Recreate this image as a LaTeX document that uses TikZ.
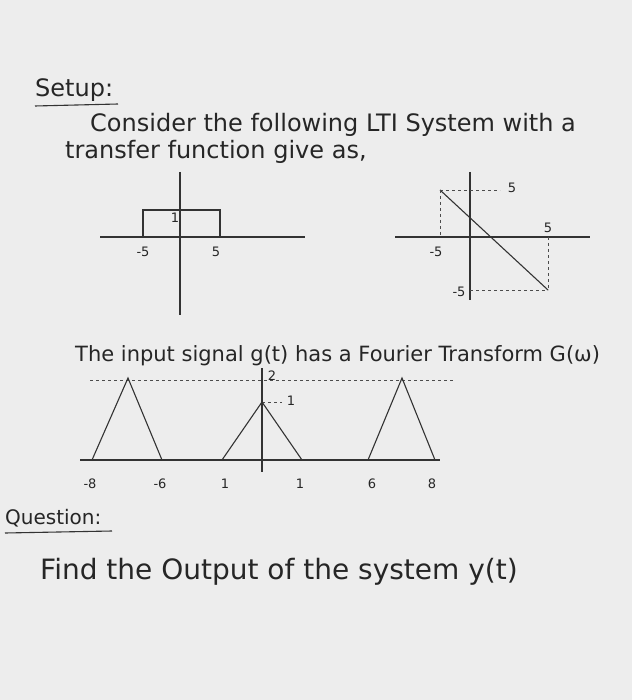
\documentclass[tikz,border=0pt]{standalone}
\usepackage{fontspec}
\setmainfont{DejaVu Sans}
\begin{document}
\begin{tikzpicture}[x=1pt,y=-1pt,
  ink/.style={draw=black!80,line width=1.1pt},
  dashln/.style={draw=black!70,dashed,line width=0.8pt},
  txt/.style={text=black!85,inner sep=0,anchor=west},
  lab/.style={text=black!85,inner sep=0,font=\fontsize{13}{15}\selectfont}]
\fill[black!7] (0,0) rectangle (632,700);
\useasboundingbox (0,0) rectangle (632,700);
\node[txt,font=\fontsize{24}{28}\selectfont] (setup) at (35,90) {Setup:};
\draw[ink] (35,106) -- (118,104);
\node[txt,font=\fontsize{24}{28}\selectfont] (l1) at (90,125) {Consider the following LTI System with a};
\node[txt,font=\fontsize{24}{28}\selectfont] (l2) at (65,152) {transfer function give as,};
% left plot
\draw[ink] (100,237) -- (305,237);
\draw[ink] (180,172) -- (180,315);
\draw[ink] (143,237) -- (143,210) -- (220,210) -- (220,237);
\node[lab] (a1) at (175,218) {1};
\node[lab] (a2) at (143,252) {-5};
\node[lab] (a3) at (216,252) {5};
% right plot
\draw[ink] (395,237) -- (590,237);
\draw[ink] (470,172) -- (470,300);
\draw[ink] (440,190) -- (548,290);
\draw[dashln] (440,190) -- (500,190);
\draw[dashln] (440,190) -- (440,237);
\draw[dashln] (470,290) -- (548,290);
\draw[dashln] (548,237) -- (548,290);
\node[lab] (b1) at (512,188) {5};
\node[lab] (b2) at (436,252) {-5};
\node[lab] (b3) at (548,228) {5};
\node[lab] (b4) at (459,292) {-5};
\node[txt,font=\fontsize{21}{25}\selectfont] (l3) at (75,356) {The input signal g(t) has a Fourier Transform G(ω)};
% triangles
\draw[dashln] (90,380) -- (455,380);
\draw[dashln] (262,402) -- (282,402);
\draw[ink] (80,460) -- (440,460);
\draw[ink] (262,368) -- (262,472);
\draw[ink] (92,460) -- (128,378) -- (162,460);
\draw[ink] (222,460) -- (262,402) -- (302,460);
\draw[ink] (368,460) -- (402,378) -- (435,460);
\node[lab] (c0) at (272,376) {2};
\node[lab] (c1) at (291,401) {1};
\node[lab] (c2) at (90,484) {-8};
\node[lab] (c3) at (160,484) {-6};
\node[lab] (c4) at (225,484) {1};
\node[lab] (c5) at (300,484) {1};
\node[lab] (c6) at (372,484) {6};
\node[lab] (c7) at (432,484) {8};
\node[txt,font=\fontsize{20}{24}\selectfont] (q) at (5,518) {Question:};
\draw[ink] (5,533) -- (112,531);
\node[txt,font=\fontsize{28}{32}\selectfont] (l4) at (40,572) {Find the Output of the system y(t)};
\end{tikzpicture}
\end{document}
